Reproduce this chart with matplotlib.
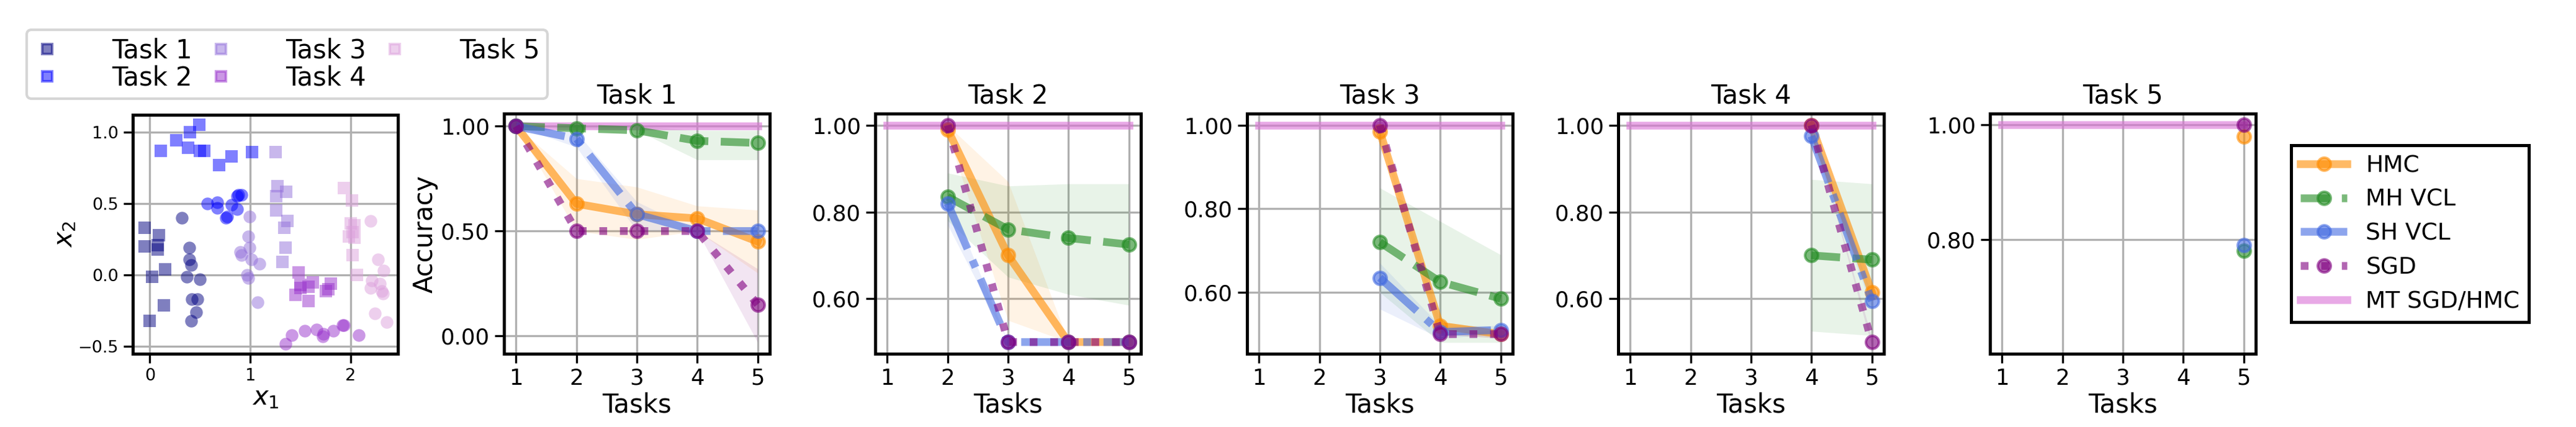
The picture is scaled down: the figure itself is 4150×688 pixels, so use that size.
import numpy as np
import matplotlib.pyplot as plt
from matplotlib.lines import Line2D

W, H = 4150, 688

# scatter data per task (x1, x2)
sq_x = [
    [-0.05, 0.09, -0.05, 0.08, 0.02, 0.15, 0.14, 0.00, 0.08],
    [0.11, 0.26, 0.40, 0.49, 0.38, 0.50, 0.54, 0.69, 0.81, 1.02],
    [1.25, 1.27, 1.26, 1.26, 1.36, 1.37, 1.34, 1.35, 1.32],
    [1.48, 1.50, 1.45, 1.58, 1.62, 1.58, 1.75, 1.80, 1.78, 1.50],
    [1.93, 2.01, 2.00, 2.04, 1.98, 2.04, 2.02, 2.06, 2.02],
]
sq_y = [
    [0.33, 0.28, 0.20, 0.21, -0.01, 0.04, -0.21, -0.32, 0.18],
    [0.87, 0.94, 1.00, 1.05, 0.89, 0.87, 0.87, 0.77, 0.83, 0.86],
    [0.86, 0.62, 0.55, 0.45, 0.58, 0.38, 0.33, 0.19, 0.09],
    [0.02, -0.07, -0.14, -0.08, -0.05, -0.18, -0.11, -0.06, -0.10, -0.09],
    [0.61, 0.52, 0.36, 0.35, 0.27, 0.26, 0.14, 0.00, 0.30],
]
ci_x = [
    [0.32, 0.39, 0.39, 0.41, 0.37, 0.50, 0.42, 0.47, 0.46, 0.41],
    [0.57, 0.67, 0.67, 0.77, 0.76, 0.81, 0.87, 0.88, 0.91, 0.87],
    [0.99, 0.98, 0.99, 0.90, 0.91, 1.01, 1.09, 0.97, 0.98, 1.07],
    [1.35, 1.41, 1.54, 1.66, 1.73, 1.72, 1.83, 1.92, 1.93, 2.08],
    [2.20, 2.27, 2.33, 2.21, 2.20, 2.29, 2.32, 2.24, 2.36, 2.31],
]
ci_y = [
    [0.40, 0.19, 0.11, 0.07, -0.01, -0.03, -0.17, -0.17, -0.26, -0.32],
    [0.50, 0.51, 0.47, 0.41, 0.40, 0.49, 0.46, 0.56, 0.56, 0.55],
    [0.41, 0.27, 0.19, 0.16, 0.14, 0.11, 0.08, 0.00, -0.02, -0.19],
    [-0.48, -0.42, -0.39, -0.38, -0.41, -0.43, -0.39, -0.35, -0.35, -0.42],
    [0.38, 0.11, 0.03, -0.04, -0.09, -0.06, -0.13, -0.27, -0.33, -0.11],
]
task_colors = ['navy', 'blue', 'mediumpurple', 'darkorchid', 'plum']

methods = ['HMC', 'MH VCL', 'SH VCL', 'SGD']
m_colors = ['darkorange', 'forestgreen', 'royalblue', 'purple']
m_styles = ['-', '--', '-.', ':']

# accuracy per panel: mean, lower, upper (x starts at panel index + 1)
acc = {
    'HMC': [
        ([1.0, 0.63, 0.58, 0.56, 0.45], [1.0, 0.50, 0.46, 0.50, 0.30], [1.0, 0.75, 0.71, 0.62, 0.60]),
        ([0.99, 0.70, 0.50, 0.50], [0.98, 0.55, 0.50, 0.50], [1.0, 0.87, 0.50, 0.50]),
        ([0.985, 0.52, 0.50], [0.97, 0.50, 0.49], [1.0, 0.53, 0.51]),
        ([1.0, 0.615], [0.99, 0.60], [1.0, 0.63]),
        ([0.98], [0.98], [0.98]),
    ],
    'MH VCL': [
        ([1.0, 0.99, 0.98, 0.93, 0.92], [1.0, 0.99, 0.98, 0.84, 0.84], [1.0, 1.0, 1.0, 0.98, 0.98]),
        ([0.835, 0.76, 0.74, 0.725], [0.78, 0.65, 0.61, 0.585], [0.89, 0.86, 0.865, 0.865]),
        ([0.72, 0.625, 0.585], [0.60, 0.48, 0.48], [0.85, 0.77, 0.69]),
        ([0.70, 0.69], [0.525, 0.515], [0.875, 0.865]),
        ([0.78], [0.78], [0.78]),
    ],
    'SH VCL': [
        ([1.0, 0.94, 0.58, 0.50, 0.50], [1.0, 0.90, 0.50, 0.50, 0.50], [1.0, 0.97, 0.64, 0.50, 0.50]),
        ([0.82, 0.50, 0.50, 0.50], [0.77, 0.50, 0.50, 0.50], [0.84, 0.50, 0.50, 0.50]),
        ([0.635, 0.505, 0.51], [0.56, 0.49, 0.50], [0.67, 0.52, 0.52]),
        ([0.975, 0.595], [0.96, 0.58], [0.99, 0.61]),
        ([0.79], [0.79], [0.79]),
    ],
    'SGD': [
        ([1.0, 0.50, 0.50, 0.50, 0.15], [1.0, 0.50, 0.50, 0.50, -0.03], [1.0, 0.50, 0.50, 0.50, 0.32]),
        ([1.0, 0.50, 0.50, 0.50], [1.0, 0.50, 0.50, 0.50], [1.0, 0.50, 0.50, 0.50]),
        ([1.0, 0.50, 0.50], [1.0, 0.50, 0.49], [1.0, 0.50, 0.51]),
        ([1.0, 0.50], [1.0, 0.49], [1.0, 0.51]),
        ([1.0], [1.0], [1.0]),
    ],
}
mt_acc = 1.0
tasks = [1, 2, 3, 4, 5]
ylims = [(-0.085, 1.06), (0.473, 1.027), (0.453, 1.028), (0.473, 1.027), (0.60, 1.02)]
yticks = [[0.0, 0.5, 1.0], [0.6, 0.8, 1.0], [0.6, 0.8, 1.0], [0.6, 0.8, 1.0], [0.8, 1.0]]

plt.rcParams['axes.linewidth'] = 1.2
fig = plt.figure(figsize=(W / 300, H / 300), dpi=300)


def box(x0, x1, y0, y1):
    return [x0 / W, 1 - y1 / H, (x1 - x0) / W, (y1 - y0) / H]


# scatter of the data
ax = fig.add_axes(box(214, 641, 185, 570))
for i in range(5):
    ax.scatter(sq_x[i], sq_y[i], marker='s', s=24, color=task_colors[i], alpha=0.5, lw=0)
    ax.scatter(ci_x[i], ci_y[i], marker='o', s=24, color=task_colors[i], alpha=0.5, lw=0)
ax.set_xlim(-0.17, 2.47)
ax.set_ylim(-0.55, 1.12)
ax.set_xticks([0, 1, 2])
ax.set_yticks([-0.5, 0.0, 0.5, 1.0])
ax.tick_params(labelsize=6.5, pad=2)
ax.grid(True, color='#b0b0b0', lw=0.8)
ax.set_axisbelow(True)
ax.set_xlabel('$x_1$', fontsize=10, labelpad=0)
ax.set_ylabel('$x_2$', fontsize=10, labelpad=0)

handles = [Line2D([], [], marker='s', ls='none', color=task_colors[i], alpha=0.5, markersize=4)
           for i in range(5)]
fig.legend(handles, [f'Task {i + 1}' for i in range(5)], loc='upper left',
           bbox_to_anchor=(22 / W, 1 - 27 / H), ncol=3, fontsize=10,
           handletextpad=2.0, columnspacing=0.6, labelspacing=0.05,
           borderpad=0.3, handlelength=1.0)

lefts = [812, 1410, 2009, 2607, 3206]
for p in range(5):
    ax = fig.add_axes(box(lefts[p], lefts[p] + 428, 183, 570))
    ax.plot(tasks, [mt_acc] * 5, color='orchid', lw=3, alpha=0.6, label='MT SGD/HMC')
    x = tasks[p:]
    for m, c, ls in zip(methods, m_colors, m_styles):
        mean, lo, hi = acc[m][p]
        ax.plot(x, mean, color=c, ls=ls, lw=3, marker='o', markersize=5, alpha=0.6, label=m)
        ax.fill_between(x, lo, hi, color=c, alpha=0.1, lw=0)
    ax.set_xlim(0.8, 5.2)
    ax.set_ylim(*ylims[p])
    ax.set_xticks(tasks)
    ax.set_yticks(yticks[p])
    ax.set_yticklabels([f'{v:.2f}' for v in yticks[p]])
    ax.tick_params(labelsize=8.5, pad=2)
    ax.grid(True, color='#b0b0b0', lw=0.8)
    ax.set_axisbelow(True)
    ax.set_title(f'Task {p + 1}', fontsize=10, pad=4)
    ax.set_xlabel('Tasks', fontsize=10, labelpad=1)
    if p == 0:
        ax.set_ylabel('Accuracy', fontsize=10, labelpad=1)
    if p == 4:
        h, l = ax.get_legend_handles_labels()
        order = [1, 2, 3, 4, 0]
        leg = ax.legend([h[k] for k in order], [l[k] for k in order], loc='center left',
                        bbox_to_anchor=(1.09, 0.5), fontsize=9, fancybox=False,
                        edgecolor='black', framealpha=1, labelspacing=0.5)
        leg.get_frame().set_linewidth(1.2)

fig.savefig('out.png', dpi=300)
